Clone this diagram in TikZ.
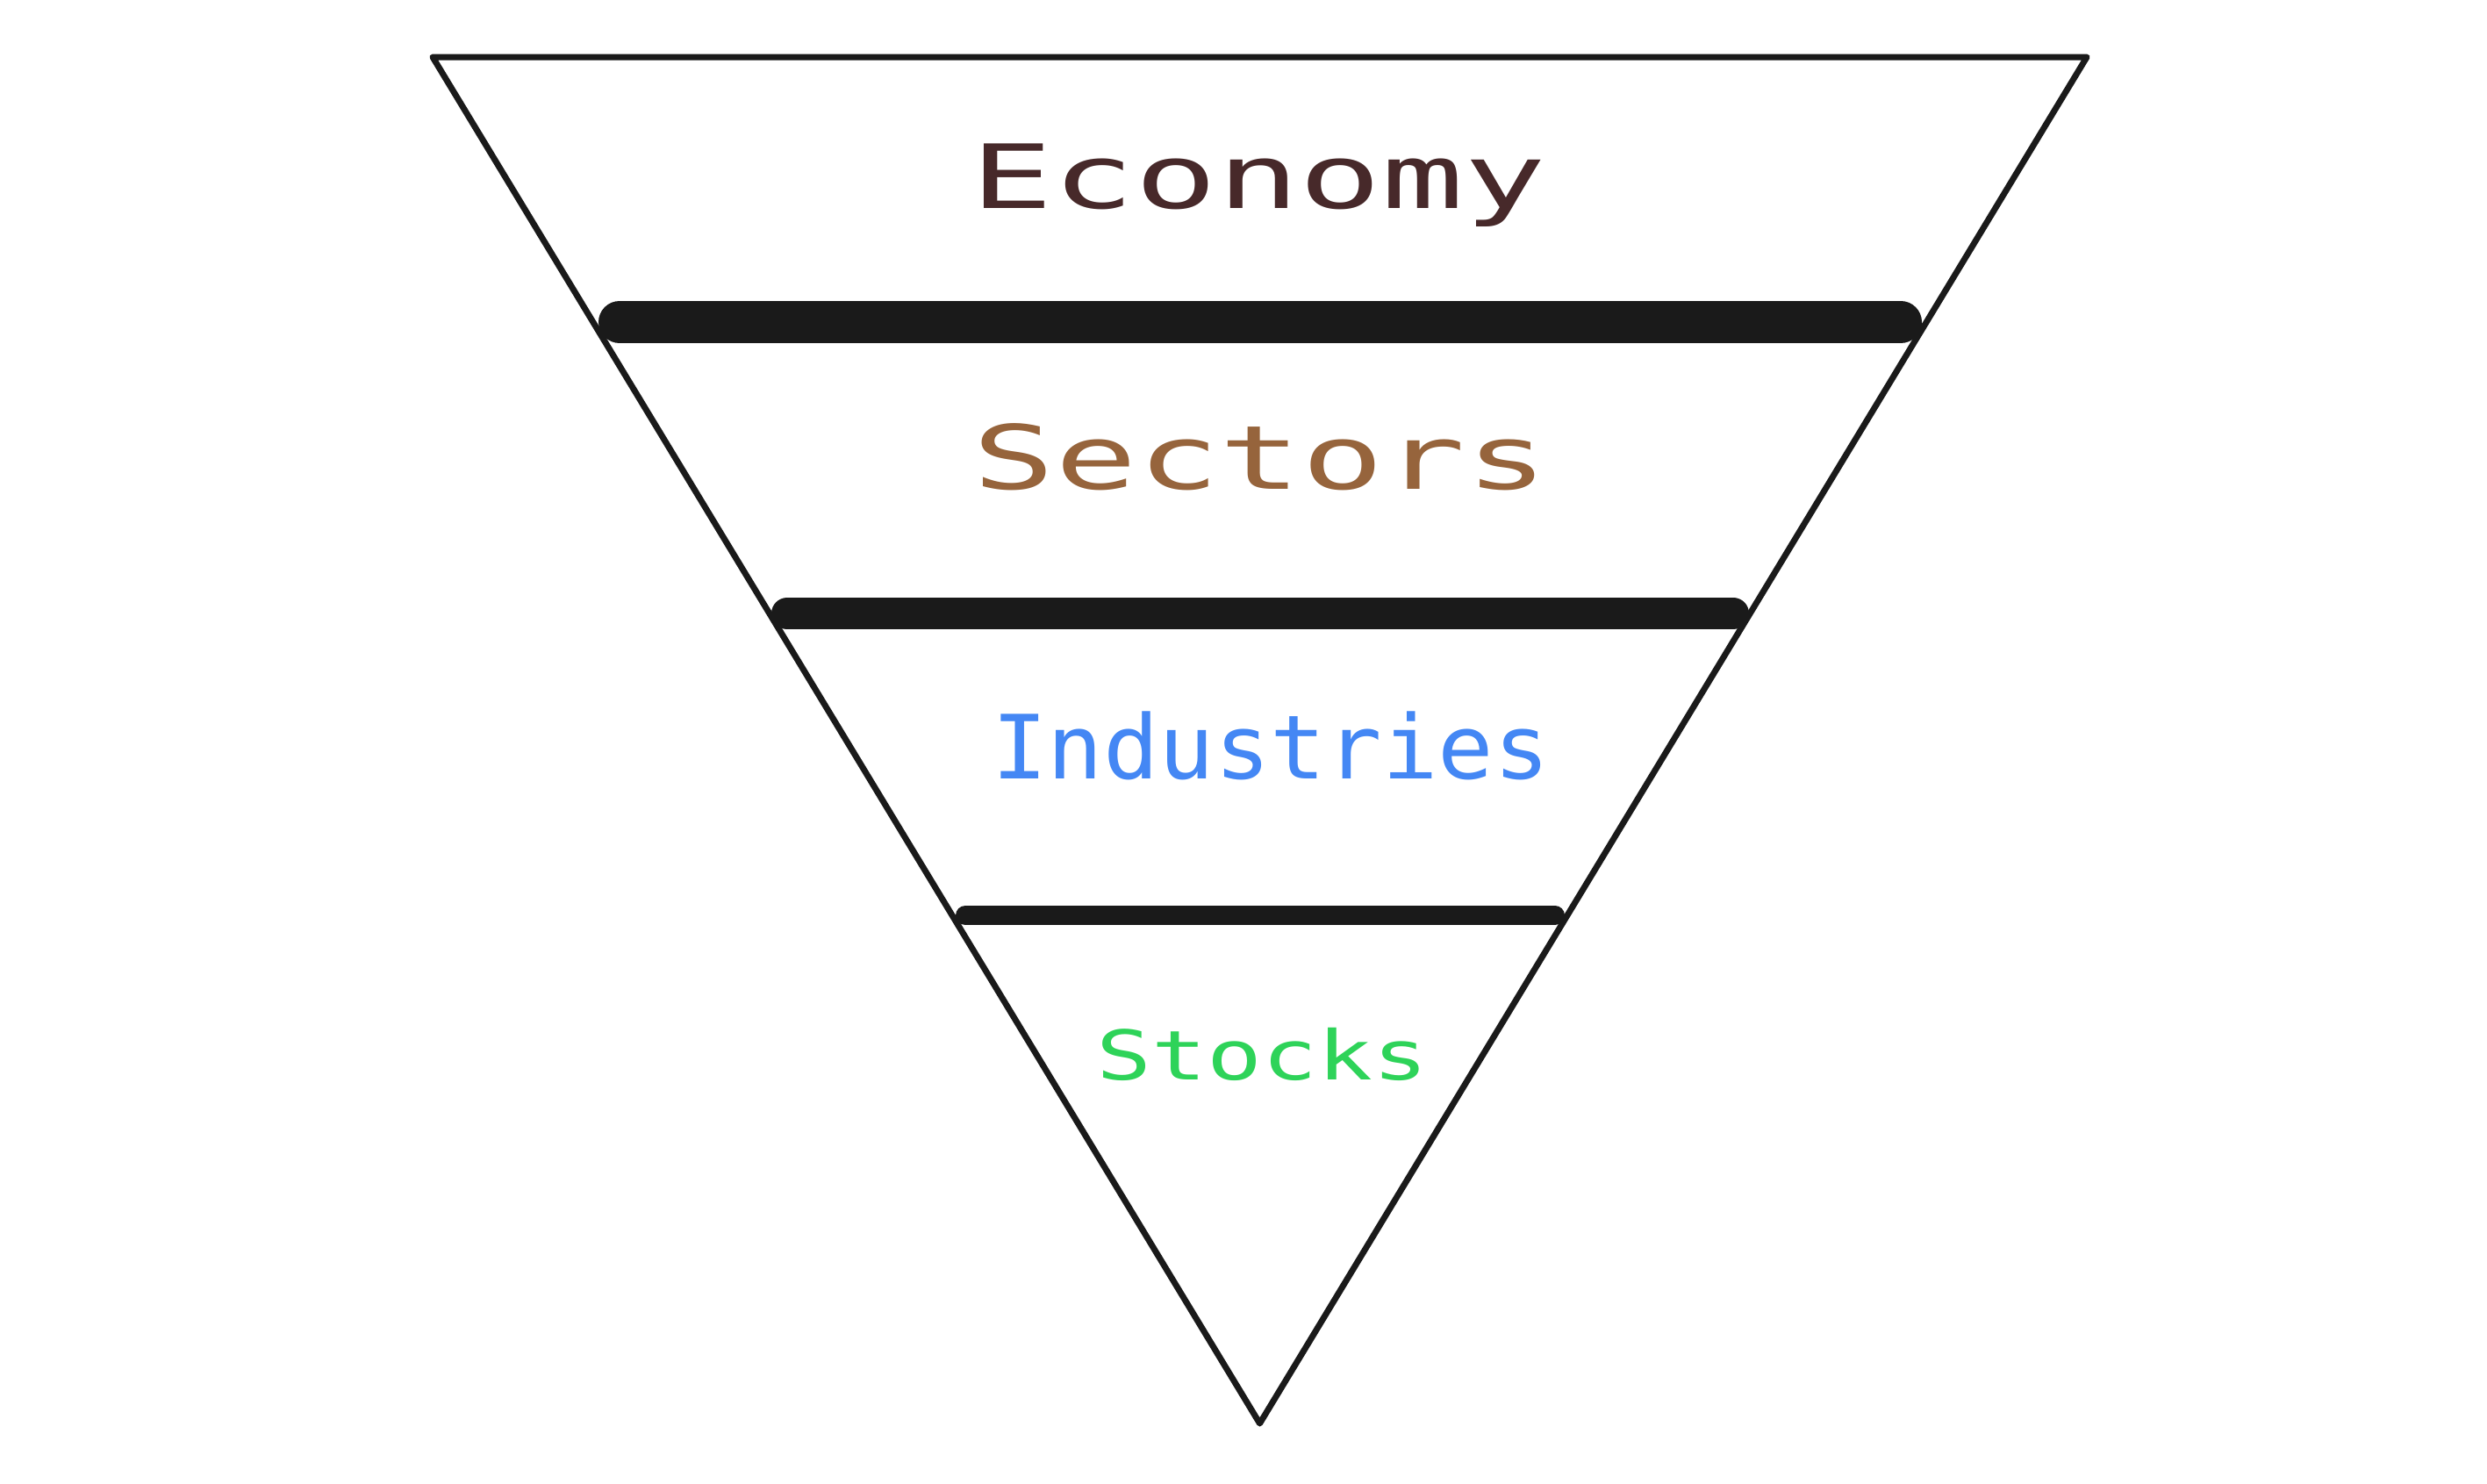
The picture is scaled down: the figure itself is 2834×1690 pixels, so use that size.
\documentclass[tikz,border=0pt]{standalone}
\usepackage{fontspec}
\newfontfamily\monoE[FakeStretch=1.54]{DejaVu Sans Mono}
\newfontfamily\monoI[FakeStretch=1.045]{DejaVu Sans Mono}
\newfontfamily\monoW[FakeStretch=1.34]{DejaVu Sans Mono}
\definecolor{econ}{HTML}{47292A}
\definecolor{sect}{HTML}{96643C}
\definecolor{indu}{HTML}{4487F4}
\definecolor{stoc}{HTML}{2ED359}
\definecolor{ink}{HTML}{1A1A1A}
\tikzset{
  outline/.style={draw=ink, line width=7pt, line join=round, line cap=round},
  bar/.style={draw=ink, line cap=round},
  label/.style={anchor=base, inner sep=0pt, outer sep=0pt}
}
\begin{document}
\begin{tikzpicture}[x=1pt,y=-1pt]
\useasboundingbox (0,0) rectangle (2834,1690);
\coordinate (tl) at (493,65);
\coordinate (tr) at (2378,65);
\coordinate (bt) at (1435.5,1622);
\draw[outline] (tl) -- (tr) -- (bt) -- cycle;
\coordinate (b1l) at (706,367);
\coordinate (b1r) at (2166,367);
\coordinate (b2l) at (897,699);
\coordinate (b2r) at (1975,699);
\coordinate (b3l) at (1100,1043);
\coordinate (b3r) at (1772,1043);
\draw[bar, line width=48pt] (b1l) -- (b1r);
\draw[bar, line width=36pt] (b2l) -- (b2r);
\draw[bar, line width=22pt] (b3l) -- (b3r);
\node[label, text=econ, font=\monoE\fontsize{101pt}{110pt}\selectfont] (economy) at (1434,237) {Economy};
\node[label, text=sect, font=\monoE\fontsize{101pt}{110pt}\selectfont] (sectors) at (1436.5,557) {Sectors};
\node[label, text=indu, font=\monoI\fontsize{101pt}{110pt}\selectfont] (industries) at (1448,887) {Industries};
\node[label, text=stoc, font=\monoW\fontsize{78pt}{88pt}\selectfont] (stocks) at (1438.5,1230) {Stocks};
\end{tikzpicture}
\end{document}
